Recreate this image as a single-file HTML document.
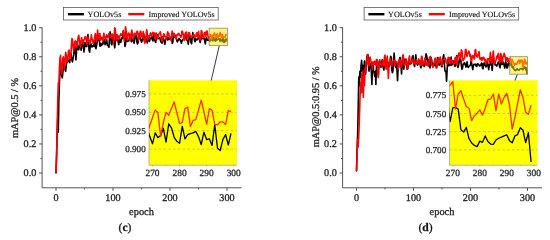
<!DOCTYPE html>
<html><head><meta charset="utf-8"><title>figure</title>
<style>html,body{margin:0;padding:0;background:#fff}svg{display:block}text{text-rendering:geometricPrecision;stroke:#222;stroke-width:0.3px}.lg text{stroke-width:0.15px}</style></head>
<body>
<svg width="550" height="240" viewBox="0 0 550 240">
<rect width="550" height="240" fill="#fff"/>
<g fill="none" stroke-linejoin="round" stroke-linecap="round" stroke-width="1.6">
<path d="M56.00,173.00 L56.57,155.56 L57.14,133.77 L57.71,117.79 L58.28,132.32 L58.85,100.35 L59.42,82.91 L59.99,71.29 L60.56,68.38 L61.13,72.74 L61.70,75.65 L62.27,77.83 L62.84,72.74 L63.41,65.48 L63.98,62.57 L64.55,66.93 L65.12,69.84 L65.69,71.29 L66.26,65.48 L66.83,59.67 L67.40,56.76 L67.97,59.67 L68.54,61.12 L69.11,61.85 L69.68,62.57 L70.25,58.21 L70.82,53.85 L71.39,56.76 L71.96,60.39 L72.53,61.85 L73.10,58.21 L73.67,54.70 L74.24,48.73 L74.81,44.87 L75.38,51.10 L75.95,59.92 L76.52,51.70 L77.09,41.72 L77.66,45.30 L78.23,49.65 L78.80,49.67 L79.37,46.09 L79.94,44.49 L80.51,41.47 L81.08,50.32 L81.65,48.38 L82.22,44.29 L82.79,44.63 L83.36,42.62 L83.93,52.05 L84.50,48.00 L85.07,42.57 L85.64,45.96 L86.21,46.21 L86.78,46.58 L87.35,37.98 L87.92,34.60 L88.49,41.29 L89.06,50.57 L89.63,52.08 L90.20,47.00 L90.77,43.57 L91.34,45.11 L91.91,46.96 L92.48,46.25 L93.05,45.33 L93.62,45.54 L94.19,46.68 L94.76,37.66 L95.33,42.27 L95.90,48.78 L96.47,46.23 L97.04,42.94 L97.61,40.27 L98.18,39.37 L98.75,39.02 L99.32,40.59 L99.89,46.22 L100.46,43.34 L101.03,45.73 L101.60,44.52 L102.17,43.34 L102.74,44.63 L103.31,41.85 L103.88,41.29 L104.45,39.42 L105.02,44.73 L105.59,43.22 L106.16,40.13 L106.73,39.89 L107.30,45.18 L107.87,45.67 L108.44,46.09 L109.01,47.29 L109.58,34.82 L110.15,31.91 L110.72,35.03 L111.29,43.83 L111.86,44.81 L112.43,40.44 L113.00,37.34 L113.57,39.20 L114.14,42.56 L114.71,47.82 L115.28,42.92 L115.85,37.29 L116.42,34.87 L116.99,39.66 L117.56,39.29 L118.13,41.33 L118.70,44.58 L119.27,40.42 L119.84,39.15 L120.41,42.42 L120.98,42.00 L121.55,38.45 L122.12,37.58 L122.69,38.43 L123.26,31.32 L123.83,33.74 L124.40,37.60 L124.97,46.41 L125.54,44.47 L126.11,37.38 L126.68,36.53 L127.25,41.05 L127.82,41.50 L128.39,40.76 L128.96,40.61 L129.53,37.09 L130.10,34.53 L130.67,37.12 L131.24,41.77 L131.81,41.06 L132.38,37.29 L132.95,35.73 L133.52,41.32 L134.09,43.22 L134.66,39.73 L135.23,35.89 L135.80,34.69 L136.37,36.49 L136.94,42.28 L137.51,43.91 L138.08,42.73 L138.65,34.60 L139.22,33.61 L139.79,36.72 L140.36,38.15 L140.93,40.14 L141.50,42.26 L142.07,40.94 L142.64,38.31 L143.21,33.95 L143.78,34.04 L144.35,40.65 L144.92,41.04 L145.49,37.43 L146.06,38.72 L146.63,39.56 L147.20,42.99 L147.77,40.10 L148.34,37.73 L148.91,40.02 L149.48,41.42 L150.05,39.06 L150.62,38.45 L151.19,37.62 L151.76,36.93 L152.33,39.85 L152.90,40.96 L153.47,34.93 L154.04,34.74 L154.61,40.00 L155.18,41.51 L155.75,42.38 L156.32,36.98 L156.89,34.71 L157.46,34.85 L158.03,36.60 L158.60,38.66 L159.17,37.76 L159.74,37.65 L160.31,39.84 L160.88,42.00 L161.45,40.94 L162.02,43.27 L162.59,36.46 L163.16,38.14 L163.73,39.67 L164.30,42.21 L164.87,44.38 L165.44,40.33 L166.01,37.05 L166.58,36.99 L167.15,37.34 L167.72,39.98 L168.29,39.39 L168.86,37.27 L169.43,38.01 L170.00,39.55 L170.57,38.43 L171.14,37.84 L171.71,37.90 L172.28,43.40 L172.85,41.86 L173.42,37.17 L173.99,36.15 L174.56,37.19 L175.13,35.25 L175.70,37.13 L176.27,38.22 L176.84,40.91 L177.41,41.97 L177.98,40.37 L178.55,39.87 L179.12,38.41 L179.69,39.65 L180.26,39.71 L180.83,41.60 L181.40,43.17 L181.97,41.12 L182.54,39.75 L183.11,39.21 L183.68,39.57 L184.25,39.56 L184.82,36.55 L185.39,34.02 L185.96,35.44 L186.53,39.93 L187.10,38.19 L187.67,40.68 L188.24,44.19 L188.81,40.38 L189.38,36.56 L189.95,36.61 L190.52,38.44 L191.09,42.91 L191.66,43.70 L192.23,36.87 L192.80,32.59 L193.37,37.27 L193.94,37.27 L194.51,40.66 L195.08,41.78 L195.65,38.83 L196.22,39.35 L196.79,39.92 L197.36,39.34 L197.93,39.11 L198.50,36.75 L199.07,35.97 L199.64,40.20 L200.21,42.44 L200.78,39.73 L201.35,37.28 L201.92,38.72 L202.49,38.56 L203.06,36.87 L203.63,38.80 L204.20,38.12 L204.77,41.43 L205.34,43.86 L205.91,39.28 L206.48,37.74 L207.05,39.67 L207.62,40.28 L208.19,40.40 L208.76,38.12 L209.33,39.76 L209.90,41.18 L210.47,39.03 L211.04,39.96 L211.61,39.54 L212.18,38.12 L212.75,40.86 L213.32,37.23 L213.89,38.02 L214.46,39.91 L215.03,40.69 L215.60,41.07 L216.17,37.73 L216.74,40.20 L217.31,39.37 L217.88,39.18 L218.45,39.03 L219.02,38.74 L219.59,39.76 L220.16,41.36 L220.73,38.89 L221.30,40.34 L221.87,40.20 L222.44,41.50 L223.01,37.44 L223.58,42.01 L224.15,42.52 L224.72,40.34 L225.29,39.37 L225.86,41.42 L226.43,39.11" stroke="#000"/>
<path d="M56.00,172.27 L56.57,158.47 L57.14,129.41 L57.71,103.26 L58.28,82.91 L58.85,85.82 L59.42,68.38 L59.99,58.21 L60.56,55.31 L61.13,71.29 L61.70,74.20 L62.27,65.48 L62.84,58.21 L63.41,56.76 L63.98,64.02 L64.55,68.38 L65.12,59.67 L65.69,52.40 L66.26,55.31 L66.83,61.12 L67.40,62.57 L67.97,56.76 L68.54,50.95 L69.11,50.22 L69.68,56.76 L70.25,58.26 L70.82,58.60 L71.39,45.15 L71.96,38.66 L72.53,39.68 L73.10,47.29 L73.67,50.97 L74.24,47.24 L74.81,41.73 L75.38,40.82 L75.95,43.23 L76.52,47.69 L77.09,45.02 L77.66,41.45 L78.23,36.86 L78.80,35.43 L79.37,40.23 L79.94,45.54 L80.51,46.94 L81.08,41.05 L81.65,37.68 L82.22,40.12 L82.79,42.12 L83.36,44.03 L83.93,39.75 L84.50,39.60 L85.07,36.46 L85.64,37.10 L86.21,38.54 L86.78,44.19 L87.35,42.88 L87.92,37.08 L88.49,39.25 L89.06,41.61 L89.63,40.86 L90.20,43.14 L90.77,39.85 L91.34,34.89 L91.91,38.51 L92.48,39.87 L93.05,43.39 L93.62,41.02 L94.19,41.98 L94.76,36.01 L95.33,33.68 L95.90,36.67 L96.47,41.78 L97.04,37.50 L97.61,30.07 L98.18,38.24 L98.75,38.95 L99.32,33.74 L99.89,33.56 L100.46,40.42 L101.03,39.20 L101.60,37.36 L102.17,37.95 L102.74,40.93 L103.31,37.72 L103.88,33.39 L104.45,36.12 L105.02,37.22 L105.59,40.61 L106.16,37.05 L106.73,34.83 L107.30,35.98 L107.87,37.66 L108.44,35.56 L109.01,33.57 L109.58,34.01 L110.15,36.33 L110.72,37.61 L111.29,35.72 L111.86,34.74 L112.43,34.02 L113.00,36.51 L113.57,43.60 L114.14,38.07 L114.71,27.84 L115.28,28.76 L115.85,36.32 L116.42,40.53 L116.99,38.82 L117.56,35.03 L118.13,36.29 L118.70,37.70 L119.27,39.00 L119.84,36.04 L120.41,34.76 L120.98,33.75 L121.55,35.42 L122.12,34.30 L122.69,34.48 L123.26,30.60 L123.83,37.63 L124.40,41.25 L124.97,35.97 L125.54,26.90 L126.11,30.64 L126.68,37.38 L127.25,40.09 L127.82,34.42 L128.39,33.10 L128.96,33.23 L129.53,36.35 L130.10,40.38 L130.67,37.53 L131.24,33.06 L131.81,30.10 L132.38,33.93 L132.95,39.13 L133.52,37.55 L134.09,34.38 L134.66,33.20 L135.23,35.04 L135.80,34.08 L136.37,34.23 L136.94,31.42 L137.51,31.38 L138.08,33.93 L138.65,40.64 L139.22,38.42 L139.79,33.68 L140.36,31.11 L140.93,31.65 L141.50,36.64 L142.07,36.72 L142.64,37.04 L143.21,31.64 L143.78,35.35 L144.35,41.62 L144.92,43.21 L145.49,39.00 L146.06,35.98 L146.63,29.73 L147.20,32.53 L147.77,40.01 L148.34,37.72 L148.91,35.81 L149.48,37.33 L150.05,34.73 L150.62,32.82 L151.19,35.39 L151.76,34.05 L152.33,34.56 L152.90,32.40 L153.47,33.18 L154.04,32.60 L154.61,34.94 L155.18,39.60 L155.75,33.25 L156.32,33.16 L156.89,35.91 L157.46,38.77 L158.03,37.92 L158.60,34.83 L159.17,33.47 L159.74,33.37 L160.31,31.64 L160.88,34.73 L161.45,40.02 L162.02,41.47 L162.59,38.28 L163.16,37.65 L163.73,33.69 L164.30,34.41 L164.87,36.69 L165.44,37.04 L166.01,38.96 L166.58,38.81 L167.15,34.36 L167.72,31.78 L168.29,34.95 L168.86,33.56 L169.43,37.57 L170.00,38.79 L170.57,37.06 L171.14,40.76 L171.71,33.95 L172.28,30.98 L172.85,35.96 L173.42,34.14 L173.99,33.33 L174.56,34.18 L175.13,37.37 L175.70,37.36 L176.27,39.03 L176.84,35.14 L177.41,34.27 L177.98,34.83 L178.55,33.40 L179.12,34.15 L179.69,35.46 L180.26,35.83 L180.83,37.46 L181.40,34.95 L181.97,30.96 L182.54,31.56 L183.11,33.90 L183.68,38.76 L184.25,40.45 L184.82,39.98 L185.39,33.08 L185.96,32.19 L186.53,32.02 L187.10,37.02 L187.67,39.51 L188.24,37.12 L188.81,32.49 L189.38,32.76 L189.95,35.22 L190.52,37.01 L191.09,36.40 L191.66,37.75 L192.23,36.40 L192.80,35.37 L193.37,35.21 L193.94,34.53 L194.51,36.68 L195.08,37.13 L195.65,36.66 L196.22,34.61 L196.79,32.81 L197.36,36.52 L197.93,36.59 L198.50,31.43 L199.07,35.63 L199.64,39.80 L200.21,40.14 L200.78,36.74 L201.35,30.43 L201.92,31.79 L202.49,37.69 L203.06,37.82 L203.63,37.16 L204.20,33.04 L204.77,32.57 L205.34,32.32 L205.91,36.73 L206.48,31.86 L207.05,30.98 L207.62,33.54 L208.19,37.10 L208.76,39.31 L209.33,37.52 L209.90,36.04 L210.47,34.49 L211.04,35.05 L211.61,39.70 L212.18,37.00 L212.75,34.97 L213.32,35.55 L213.89,34.24 L214.46,32.90 L215.03,35.05 L215.60,37.19 L216.17,36.97 L216.74,34.24 L217.31,33.95 L217.88,37.78 L218.45,36.56 L219.02,36.42 L219.59,34.53 L220.16,32.57 L220.73,34.88 L221.30,37.36 L221.87,34.24 L222.44,34.53 L223.01,37.36 L223.58,37.44 L224.15,36.85 L224.72,36.85 L225.29,37.36 L225.86,34.62 L226.43,34.82" stroke="#ff0000"/>
</g>
<g stroke="#404040" stroke-width="0.9" fill="none">
<path d="M42.10,27.2 V187.8 H241.50"/>
<path d="M42.10,173.00 h-3.00"/>
<path d="M42.10,158.47 h-1.60"/>
<path d="M42.10,143.94 h-3.00"/>
<path d="M42.10,129.41 h-1.60"/>
<path d="M42.10,114.88 h-3.00"/>
<path d="M42.10,100.35 h-1.60"/>
<path d="M42.10,85.82 h-3.00"/>
<path d="M42.10,71.29 h-1.60"/>
<path d="M42.10,56.76 h-3.00"/>
<path d="M42.10,42.23 h-1.60"/>
<path d="M42.10,27.70 h-3.00"/>
<path d="M56.00,187.8 v3.00"/>
<path d="M84.50,187.8 v1.60"/>
<path d="M113.00,187.8 v3.00"/>
<path d="M141.50,187.8 v1.60"/>
<path d="M170.00,187.8 v3.00"/>
<path d="M198.50,187.8 v1.60"/>
<path d="M227.00,187.8 v3.00"/>
</g>
<g font-family="Liberation Serif, Times New Roman, serif" font-size="10.2" fill="#222">
<text x="36.30" y="176.20" text-anchor="end">0.0</text>
<text x="36.30" y="147.14" text-anchor="end">0.2</text>
<text x="36.30" y="118.08" text-anchor="end">0.4</text>
<text x="36.30" y="89.02" text-anchor="end">0.6</text>
<text x="36.30" y="59.96" text-anchor="end">0.8</text>
<text x="36.30" y="30.90" text-anchor="end">1.0</text>
<text x="56.00" y="201.3" text-anchor="middle">0</text>
<text x="113.00" y="201.3" text-anchor="middle">100</text>
<text x="170.00" y="201.3" text-anchor="middle">200</text>
<text x="227.00" y="201.3" text-anchor="middle">300</text>
</g>
<text font-family="Liberation Serif, Times New Roman, serif" font-size="10.4" fill="#222" x="141.50" y="214.5" text-anchor="middle">epoch</text>
<text font-family="Liberation Serif, Times New Roman, serif" font-size="10.3" fill="#222" text-anchor="middle" transform="translate(18.00,108.00) rotate(-90)">mAP@0.5 / %</text>
<text font-family="Liberation Serif, Times New Roman, serif" font-size="11.6" fill="#111" x="125.00" y="230.5" text-anchor="middle">(<tspan font-weight="bold">c</tspan>)</text>
<rect x="63.60" y="7.6" width="154.6" height="12.4" fill="#fff" stroke="#505050" stroke-width="0.75"/>
<path d="M67.90,14.2 h16" stroke="#000" stroke-width="2.4"/>
<path d="M128.30,14.2 h16" stroke="#ff0000" stroke-width="2.4"/>
<g class="lg">
<text font-family="Liberation Serif, Times New Roman, serif" font-size="8.1" fill="#111" stroke-width="0.15" x="87.60" y="16.6">YOLOv5s</text>
<text font-family="Liberation Serif, Times New Roman, serif" font-size="8.0" fill="#111" stroke-width="0.15" x="148.50" y="16.6">Improved YOLOv5s</text>
</g>
<rect x="149.00" y="80.30" width="88.00" height="84.90" fill="#ffff00"/>
<path d="M149.00,80.30 V165.20 H237.00" stroke="#8a8a9a" stroke-width="0.6" fill="none"/>
<path d="M149.00,93.90 H237.00" stroke="#b0b060" stroke-width="0.7" stroke-dasharray="2.6,2.2" fill="none"/>
<text font-family="Liberation Serif, Times New Roman, serif" font-size="9.1" fill="#333" x="145.70" y="97.00" text-anchor="end">0.975</text>
<path d="M149.00,112.30 H237.00" stroke="#b0b060" stroke-width="0.7" stroke-dasharray="2.6,2.2" fill="none"/>
<text font-family="Liberation Serif, Times New Roman, serif" font-size="9.1" fill="#333" x="145.70" y="115.40" text-anchor="end">0.950</text>
<path d="M149.00,130.70 H237.00" stroke="#b0b060" stroke-width="0.7" stroke-dasharray="2.6,2.2" fill="none"/>
<text font-family="Liberation Serif, Times New Roman, serif" font-size="9.1" fill="#333" x="145.70" y="133.80" text-anchor="end">0.925</text>
<path d="M149.00,149.10 H237.00" stroke="#b0b060" stroke-width="0.7" stroke-dasharray="2.6,2.2" fill="none"/>
<text font-family="Liberation Serif, Times New Roman, serif" font-size="9.1" fill="#333" x="145.70" y="152.20" text-anchor="end">0.900</text>
<text font-family="Liberation Serif, Times New Roman, serif" font-size="9.4" fill="#333" x="152.50" y="175.9" text-anchor="middle">270</text>
<text font-family="Liberation Serif, Times New Roman, serif" font-size="9.4" fill="#333" x="179.57" y="175.9" text-anchor="middle">280</text>
<text font-family="Liberation Serif, Times New Roman, serif" font-size="9.4" fill="#333" x="206.64" y="175.9" text-anchor="middle">290</text>
<text font-family="Liberation Serif, Times New Roman, serif" font-size="9.4" fill="#333" x="233.71" y="175.9" text-anchor="middle">300</text>
<path d="M152.50,165.20 v1.4" stroke="#8a8a9a" stroke-width="0.6"/>
<path d="M166.03,165.20 v0.9" stroke="#8a8a9a" stroke-width="0.6"/>
<path d="M179.57,165.20 v1.4" stroke="#8a8a9a" stroke-width="0.6"/>
<path d="M193.10,165.20 v0.9" stroke="#8a8a9a" stroke-width="0.6"/>
<path d="M206.64,165.20 v1.4" stroke="#8a8a9a" stroke-width="0.6"/>
<path d="M220.18,165.20 v0.9" stroke="#8a8a9a" stroke-width="0.6"/>
<path d="M233.71,165.20 v1.4" stroke="#8a8a9a" stroke-width="0.6"/>
<clipPath id="clipc"><rect x="149.00" y="80.30" width="88.00" height="84.90"/></clipPath>
<g clip-path="url(#clipc)" fill="none" stroke-linejoin="round" stroke-width="1.3">
<path d="M147.09,128.27 L149.79,136.59 L152.50,143.80 L155.21,132.91 L157.91,137.62 L160.62,135.48 L163.33,128.27 L166.03,142.18 L168.74,123.78 L171.45,127.76 L174.16,137.32 L176.86,141.30 L179.57,143.21 L182.28,126.28 L184.98,138.80 L187.69,134.60 L190.40,133.64 L193.10,132.91 L195.81,131.44 L198.52,136.59 L201.23,144.68 L203.93,132.17 L206.64,139.53 L209.35,138.80 L212.05,145.42 L214.76,124.81 L217.47,148.00 L220.18,150.57 L222.88,139.53 L225.59,134.60 L228.30,144.98 L231.00,133.28" stroke="#000"/>
<path d="M147.09,134.31 L149.79,125.25 L152.50,117.75 L155.21,109.87 L157.91,112.74 L160.62,136.29 L163.33,122.60 L166.03,112.30 L168.74,115.24 L171.45,108.62 L174.16,101.85 L176.86,112.74 L179.57,123.56 L182.28,122.46 L184.98,108.62 L187.69,107.15 L190.40,126.58 L193.10,120.40 L195.81,119.66 L198.52,110.09 L201.23,100.16 L203.93,111.86 L206.64,124.44 L209.35,108.62 L212.05,110.09 L214.76,124.44 L217.47,124.81 L220.18,121.87 L222.88,121.87 L225.59,124.44 L228.30,110.53 L231.00,111.56" stroke="#ff2a00"/>
</g>
<rect x="209.20" y="28.20" width="18.30" height="17.40" fill="#ffe800" fill-opacity="0.5" stroke="#8c8c70" stroke-width="0.8"/>
<path d="M219.20,46.00 L211.20,80.50" stroke="#222" stroke-width="0.9"/>
<g fill="none" stroke-linejoin="round" stroke-linecap="round" stroke-width="1.6">
<path d="M356.50,170.82 L357.07,151.20 L357.64,133.77 L358.21,107.61 L358.78,77.10 L359.35,85.82 L359.92,71.29 L360.49,77.10 L361.06,65.48 L361.63,60.25 L362.20,71.29 L362.77,65.48 L363.34,77.10 L363.91,68.38 L364.48,61.12 L365.05,71.29 L365.62,74.20 L366.19,65.48 L366.76,58.21 L367.33,55.31 L367.90,54.58 L368.47,65.48 L369.04,71.29 L369.61,65.91 L370.18,63.47 L370.75,63.59 L371.32,71.29 L371.89,84.37 L372.46,68.38 L373.03,62.36 L373.60,71.15 L374.17,72.52 L374.74,76.38 L375.31,71.29 L375.88,84.37 L376.45,66.93 L377.02,59.83 L377.59,73.87 L378.16,69.62 L378.73,63.46 L379.30,61.07 L379.87,62.42 L380.44,64.47 L381.01,67.26 L381.58,62.62 L382.15,59.86 L382.72,64.63 L383.29,67.83 L383.86,70.05 L384.43,64.98 L385.00,58.86 L385.57,58.20 L386.14,61.30 L386.71,66.30 L387.28,61.40 L387.85,62.08 L388.42,64.32 L388.99,66.62 L389.56,65.26 L390.13,64.25 L390.70,56.33 L391.27,57.62 L391.84,70.16 L392.41,72.81 L392.98,70.83 L393.55,60.18 L394.12,52.98 L394.69,60.63 L395.26,65.74 L395.83,67.40 L396.40,63.47 L396.97,69.84 L397.54,80.73 L398.11,68.38 L398.68,67.06 L399.25,60.52 L399.82,57.44 L400.39,58.01 L400.96,65.57 L401.53,74.02 L402.10,65.38 L402.67,59.89 L403.24,63.80 L403.81,69.12 L404.38,62.96 L404.95,59.12 L405.52,59.76 L406.09,60.57 L406.66,65.42 L407.23,69.33 L407.80,68.16 L408.37,65.98 L408.94,62.75 L409.51,63.75 L410.08,63.31 L410.65,64.02 L411.22,63.45 L411.79,60.48 L412.36,56.67 L412.93,55.48 L413.50,61.14 L414.07,65.04 L414.64,66.41 L415.21,60.61 L415.78,54.69 L416.35,60.52 L416.92,63.47 L417.49,65.24 L418.06,64.23 L418.63,61.57 L419.20,62.19 L419.77,60.30 L420.34,65.69 L420.91,67.78 L421.48,64.41 L422.05,63.79 L422.62,61.27 L423.19,65.40 L423.76,64.90 L424.33,66.52 L424.90,64.14 L425.47,59.90 L426.04,53.82 L426.61,55.60 L427.18,58.60 L427.75,63.82 L428.32,59.66 L428.89,60.73 L429.46,63.77 L430.03,67.91 L430.60,64.61 L431.17,57.92 L431.74,60.29 L432.31,64.78 L432.88,66.50 L433.45,64.69 L434.02,63.31 L434.59,65.55 L435.16,60.23 L435.73,64.84 L436.30,67.83 L436.87,63.64 L437.44,57.53 L438.01,59.40 L438.58,64.20 L439.15,65.23 L439.72,64.02 L440.29,59.61 L440.86,61.22 L441.43,66.05 L442.00,66.77 L442.57,62.97 L443.14,57.16 L443.71,54.68 L444.28,61.77 L444.85,70.43 L445.42,71.62 L445.99,71.29 L446.56,81.17 L447.13,69.84 L447.70,59.44 L448.27,64.08 L448.84,65.79 L449.41,65.27 L449.98,65.36 L450.55,60.67 L451.12,57.00 L451.69,65.13 L452.26,64.70 L452.83,63.08 L453.40,61.21 L453.97,60.92 L454.54,65.75 L455.11,66.30 L455.68,65.72 L456.25,59.11 L456.82,55.55 L457.39,60.24 L457.96,67.55 L458.53,65.52 L459.10,62.67 L459.67,58.80 L460.24,57.76 L460.81,59.97 L461.38,65.74 L461.95,69.32 L462.52,67.88 L463.09,64.13 L463.66,64.23 L464.23,62.83 L464.80,63.01 L465.37,65.12 L465.94,67.08 L466.51,65.26 L467.08,61.75 L467.65,66.41 L468.22,67.49 L468.79,66.47 L469.36,66.03 L469.93,65.61 L470.50,64.76 L471.07,61.42 L471.64,63.01 L472.21,66.74 L472.78,69.57 L473.35,65.72 L473.92,64.42 L474.49,64.65 L475.06,64.07 L475.63,64.75 L476.20,66.27 L476.77,66.46 L477.34,63.84 L477.91,63.72 L478.48,64.66 L479.05,65.00 L479.62,66.02 L480.19,65.30 L480.76,65.35 L481.33,63.30 L481.90,63.11 L482.47,68.08 L483.04,68.60 L483.61,63.81 L484.18,62.87 L484.75,65.34 L485.32,64.93 L485.89,66.93 L486.46,66.40 L487.03,64.02 L487.60,62.37 L488.17,66.01 L488.74,69.58 L489.31,64.93 L489.88,64.04 L490.45,64.88 L491.02,61.47 L491.59,63.98 L492.16,70.52 L492.73,64.40 L493.30,60.04 L493.87,61.91 L494.44,61.28 L495.01,64.86 L495.58,64.77 L496.15,65.22 L496.72,66.07 L497.29,64.74 L497.86,63.00 L498.43,61.96 L499.00,62.45 L499.57,66.33 L500.14,67.73 L500.71,62.87 L501.28,61.40 L501.85,64.12 L502.42,64.44 L502.99,63.02 L503.56,62.15 L504.13,65.65 L504.70,68.03 L505.27,65.55 L505.84,61.89 L506.41,65.21 L506.98,68.04 L507.55,67.54 L508.12,63.46 L508.69,64.89 L509.26,61.40 L509.83,65.62 L510.40,62.89 L510.97,62.79 L511.54,63.15 L512.11,67.27 L512.68,67.73 L513.25,66.79 L513.82,69.04 L514.39,69.91 L514.96,70.40 L515.53,70.64 L516.10,69.55 L516.67,69.78 L517.24,68.50 L517.81,69.62 L518.38,70.13 L518.95,70.20 L519.52,69.31 L520.09,68.97 L520.66,68.73 L521.23,68.50 L521.80,68.31 L522.37,69.44 L522.94,69.88 L523.51,68.50 L524.08,68.24 L524.65,66.86 L525.22,67.37 L525.79,69.84 L526.36,67.86 L526.93,73.70" stroke="#000"/>
<path d="M356.50,170.97 L357.07,155.56 L357.64,139.58 L358.21,146.85 L358.78,135.22 L359.35,120.69 L359.92,100.35 L360.49,82.91 L361.06,93.08 L361.63,74.20 L362.20,91.63 L362.77,71.29 L363.34,97.44 L363.91,77.10 L364.48,85.82 L365.05,68.38 L365.62,71.29 L366.19,62.57 L366.76,63.75 L367.33,54.61 L367.90,62.47 L368.47,64.58 L369.04,65.73 L369.61,57.64 L370.18,57.07 L370.75,60.43 L371.32,62.94 L371.89,64.13 L372.46,69.70 L373.03,61.91 L373.60,64.34 L374.17,64.13 L374.74,61.23 L375.31,64.86 L375.88,65.09 L376.45,59.49 L377.02,60.18 L377.59,66.75 L378.16,77.56 L378.73,73.67 L379.30,63.88 L379.87,59.69 L380.44,64.01 L381.01,64.40 L381.58,65.46 L382.15,64.29 L382.72,60.31 L383.29,63.60 L383.86,65.98 L384.43,57.47 L385.00,55.12 L385.57,65.45 L386.14,69.18 L386.71,63.64 L387.28,55.97 L387.85,68.38 L388.42,78.55 L388.99,65.48 L389.56,63.64 L390.13,58.64 L390.70,61.38 L391.27,64.83 L391.84,66.11 L392.41,61.46 L392.98,62.16 L393.55,61.59 L394.12,59.72 L394.69,59.97 L395.26,65.10 L395.83,61.62 L396.40,62.59 L396.97,61.85 L397.54,64.30 L398.11,69.11 L398.68,64.93 L399.25,59.45 L399.82,59.42 L400.39,61.41 L400.96,65.31 L401.53,66.84 L402.10,63.96 L402.67,55.37 L403.24,54.76 L403.81,62.93 L404.38,65.28 L404.95,65.07 L405.52,63.54 L406.09,59.01 L406.66,60.88 L407.23,67.74 L407.80,68.79 L408.37,62.84 L408.94,58.42 L409.51,55.93 L410.08,62.19 L410.65,63.50 L411.22,61.63 L411.79,61.27 L412.36,59.41 L412.93,59.36 L413.50,64.00 L414.07,61.71 L414.64,63.82 L415.21,62.99 L415.78,61.44 L416.35,59.83 L416.92,62.74 L417.49,63.62 L418.06,62.82 L418.63,58.83 L419.20,61.52 L419.77,63.14 L420.34,63.52 L420.91,65.55 L421.48,56.25 L422.05,56.47 L422.62,65.50 L423.19,63.48 L423.76,63.58 L424.33,61.05 L424.90,58.16 L425.47,61.66 L426.04,64.90 L426.61,65.23 L427.18,62.57 L427.75,64.54 L428.32,66.26 L428.89,63.44 L429.46,57.72 L430.03,56.78 L430.60,56.63 L431.17,59.68 L431.74,64.72 L432.31,65.15 L432.88,67.40 L433.45,65.86 L434.02,63.79 L434.59,60.12 L435.16,58.06 L435.73,61.86 L436.30,65.45 L436.87,67.94 L437.44,63.93 L438.01,59.11 L438.58,57.86 L439.15,62.84 L439.72,59.77 L440.29,57.03 L440.86,60.25 L441.43,64.86 L442.00,65.41 L442.57,62.00 L443.14,59.99 L443.71,59.41 L444.28,59.48 L444.85,58.38 L445.42,58.20 L445.99,61.79 L446.56,62.91 L447.13,63.48 L447.70,63.71 L448.27,57.41 L448.84,59.16 L449.41,57.81 L449.98,61.69 L450.55,63.40 L451.12,60.25 L451.69,59.92 L452.26,60.59 L452.83,62.73 L453.40,64.26 L453.97,63.25 L454.54,62.94 L455.11,57.79 L455.68,58.38 L456.25,56.80 L456.82,65.46 L457.39,64.52 L457.96,57.08 L458.53,54.35 L459.10,52.81 L459.67,54.50 L460.24,58.20 L460.81,57.84 L461.38,49.78 L461.95,51.12 L462.52,56.34 L463.09,60.60 L463.66,58.92 L464.23,58.88 L464.80,57.16 L465.37,49.72 L465.94,49.37 L466.51,54.34 L467.08,56.50 L467.65,53.17 L468.22,52.95 L468.79,51.13 L469.36,52.50 L469.93,56.51 L470.50,54.51 L471.07,60.74 L471.64,61.44 L472.21,56.37 L472.78,55.60 L473.35,56.15 L473.92,58.06 L474.49,58.95 L475.06,50.40 L475.63,49.52 L476.20,55.38 L476.77,56.25 L477.34,57.17 L477.91,54.57 L478.48,53.68 L479.05,51.54 L479.62,58.56 L480.19,59.18 L480.76,57.72 L481.33,60.09 L481.90,57.70 L482.47,60.05 L483.04,57.54 L483.61,57.24 L484.18,58.38 L484.75,60.72 L485.32,59.58 L485.89,64.12 L486.46,62.99 L487.03,61.40 L487.60,58.89 L488.17,59.00 L488.74,58.91 L489.31,62.23 L489.88,58.02 L490.45,52.40 L491.02,57.24 L491.59,62.96 L492.16,62.50 L492.73,56.48 L493.30,50.94 L493.87,57.66 L494.44,63.02 L495.01,63.67 L495.58,60.86 L496.15,59.98 L496.72,56.29 L497.29,58.07 L497.86,54.98 L498.43,53.45 L499.00,58.81 L499.57,63.01 L500.14,61.63 L500.71,53.66 L501.28,54.78 L501.85,61.47 L502.42,61.61 L502.99,56.93 L503.56,56.37 L504.13,53.29 L504.70,54.93 L505.27,57.19 L505.84,60.75 L506.41,59.78 L506.98,57.45 L507.55,61.52 L508.12,59.34 L508.69,60.60 L509.26,58.45 L509.83,58.36 L510.40,57.69 L510.97,63.12 L511.54,60.13 L512.11,59.46 L512.68,61.12 L513.25,62.63 L513.82,62.96 L514.39,65.46 L514.96,64.46 L515.53,63.95 L516.10,63.30 L516.67,64.36 L517.24,62.96 L517.81,61.29 L518.38,61.12 L518.95,60.13 L519.52,63.44 L520.09,60.13 L520.66,62.14 L521.23,60.83 L521.80,60.03 L522.37,62.28 L522.94,67.13 L523.51,64.82 L524.08,61.99 L524.65,59.29 L525.22,60.83 L525.79,63.79 L526.36,64.20 L526.93,62.35" stroke="#ff0000"/>
</g>
<g stroke="#404040" stroke-width="0.9" fill="none">
<path d="M342.60,27.2 V187.8 H542.00"/>
<path d="M342.60,173.00 h-3.00"/>
<path d="M342.60,158.47 h-1.60"/>
<path d="M342.60,143.94 h-3.00"/>
<path d="M342.60,129.41 h-1.60"/>
<path d="M342.60,114.88 h-3.00"/>
<path d="M342.60,100.35 h-1.60"/>
<path d="M342.60,85.82 h-3.00"/>
<path d="M342.60,71.29 h-1.60"/>
<path d="M342.60,56.76 h-3.00"/>
<path d="M342.60,42.23 h-1.60"/>
<path d="M342.60,27.70 h-3.00"/>
<path d="M356.50,187.8 v3.00"/>
<path d="M385.00,187.8 v1.60"/>
<path d="M413.50,187.8 v3.00"/>
<path d="M442.00,187.8 v1.60"/>
<path d="M470.50,187.8 v3.00"/>
<path d="M499.00,187.8 v1.60"/>
<path d="M527.50,187.8 v3.00"/>
</g>
<g font-family="Liberation Serif, Times New Roman, serif" font-size="10.2" fill="#222">
<text x="336.80" y="176.20" text-anchor="end">0.0</text>
<text x="336.80" y="147.14" text-anchor="end">0.2</text>
<text x="336.80" y="118.08" text-anchor="end">0.4</text>
<text x="336.80" y="89.02" text-anchor="end">0.6</text>
<text x="336.80" y="59.96" text-anchor="end">0.8</text>
<text x="336.80" y="30.90" text-anchor="end">1.0</text>
<text x="356.50" y="201.3" text-anchor="middle">0</text>
<text x="413.50" y="201.3" text-anchor="middle">100</text>
<text x="470.50" y="201.3" text-anchor="middle">200</text>
<text x="527.50" y="201.3" text-anchor="middle">300</text>
</g>
<text font-family="Liberation Serif, Times New Roman, serif" font-size="10.4" fill="#222" x="442.00" y="214.5" text-anchor="middle">epoch</text>
<text font-family="Liberation Serif, Times New Roman, serif" font-size="10.3" fill="#222" text-anchor="middle" transform="translate(318.50,106.80) rotate(-90)">mAP@0.5:0.95 / %</text>
<text font-family="Liberation Serif, Times New Roman, serif" font-size="11.6" fill="#111" x="425.50" y="230.5" text-anchor="middle">(<tspan font-weight="bold">d</tspan>)</text>
<rect x="364.10" y="7.6" width="154.6" height="12.4" fill="#fff" stroke="#505050" stroke-width="0.75"/>
<path d="M368.40,14.2 h16" stroke="#000" stroke-width="2.4"/>
<path d="M428.80,14.2 h16" stroke="#ff0000" stroke-width="2.4"/>
<g class="lg">
<text font-family="Liberation Serif, Times New Roman, serif" font-size="8.1" fill="#111" stroke-width="0.15" x="388.10" y="16.6">YOLOv5s</text>
<text font-family="Liberation Serif, Times New Roman, serif" font-size="8.0" fill="#111" stroke-width="0.15" x="449.00" y="16.6">Improved YOLOv5s</text>
</g>
<rect x="449.50" y="80.30" width="88.00" height="84.90" fill="#ffff00"/>
<path d="M449.50,80.30 V165.20 H537.50" stroke="#8a8a9a" stroke-width="0.6" fill="none"/>
<path d="M449.50,95.30 H537.50" stroke="#b0b060" stroke-width="0.7" stroke-dasharray="2.6,2.2" fill="none"/>
<text font-family="Liberation Serif, Times New Roman, serif" font-size="9.1" fill="#333" x="446.20" y="98.40" text-anchor="end">0.775</text>
<path d="M449.50,113.50 H537.50" stroke="#b0b060" stroke-width="0.7" stroke-dasharray="2.6,2.2" fill="none"/>
<text font-family="Liberation Serif, Times New Roman, serif" font-size="9.1" fill="#333" x="446.20" y="116.60" text-anchor="end">0.750</text>
<path d="M449.50,131.70 H537.50" stroke="#b0b060" stroke-width="0.7" stroke-dasharray="2.6,2.2" fill="none"/>
<text font-family="Liberation Serif, Times New Roman, serif" font-size="9.1" fill="#333" x="446.20" y="134.80" text-anchor="end">0.725</text>
<path d="M449.50,149.90 H537.50" stroke="#b0b060" stroke-width="0.7" stroke-dasharray="2.6,2.2" fill="none"/>
<text font-family="Liberation Serif, Times New Roman, serif" font-size="9.1" fill="#333" x="446.20" y="153.00" text-anchor="end">0.700</text>
<text font-family="Liberation Serif, Times New Roman, serif" font-size="9.4" fill="#333" x="452.80" y="175.9" text-anchor="middle">270</text>
<text font-family="Liberation Serif, Times New Roman, serif" font-size="9.4" fill="#333" x="479.80" y="175.9" text-anchor="middle">280</text>
<text font-family="Liberation Serif, Times New Roman, serif" font-size="9.4" fill="#333" x="506.80" y="175.9" text-anchor="middle">290</text>
<text font-family="Liberation Serif, Times New Roman, serif" font-size="9.4" fill="#333" x="533.80" y="175.9" text-anchor="middle">300</text>
<path d="M452.80,165.20 v1.4" stroke="#8a8a9a" stroke-width="0.6"/>
<path d="M466.30,165.20 v0.9" stroke="#8a8a9a" stroke-width="0.6"/>
<path d="M479.80,165.20 v1.4" stroke="#8a8a9a" stroke-width="0.6"/>
<path d="M493.30,165.20 v0.9" stroke="#8a8a9a" stroke-width="0.6"/>
<path d="M506.80,165.20 v1.4" stroke="#8a8a9a" stroke-width="0.6"/>
<path d="M520.30,165.20 v0.9" stroke="#8a8a9a" stroke-width="0.6"/>
<path d="M533.80,165.20 v1.4" stroke="#8a8a9a" stroke-width="0.6"/>
<clipPath id="clipd"><rect x="449.50" y="80.30" width="88.00" height="84.90"/></clipPath>
<g clip-path="url(#clipd)" fill="none" stroke-linejoin="round" stroke-width="1.3">
<path d="M447.40,100.34 L450.10,121.51 L452.80,107.82 L455.50,107.31 L458.20,109.13 L460.90,129.73 L463.60,132.06 L466.30,127.33 L469.00,138.62 L471.70,142.98 L474.40,145.46 L477.10,146.62 L479.80,141.16 L482.50,142.33 L485.20,135.92 L487.90,141.53 L490.60,144.08 L493.30,144.44 L496.00,140.00 L498.70,138.25 L501.40,137.09 L504.10,135.92 L506.80,134.98 L509.50,140.65 L512.20,142.84 L514.90,135.92 L517.60,134.61 L520.30,127.70 L523.00,130.24 L525.70,142.62 L528.40,132.72 L531.10,161.98" stroke="#000"/>
<path d="M447.40,85.56 L450.10,85.11 L452.80,81.76 L455.50,108.99 L458.20,93.99 L460.90,90.64 L463.60,98.94 L466.30,106.51 L469.00,108.19 L471.70,120.71 L474.40,115.68 L477.10,113.14 L479.80,109.86 L482.50,115.17 L485.20,108.19 L487.90,99.81 L490.60,98.94 L493.30,93.99 L496.00,110.59 L498.70,93.99 L501.40,104.04 L504.10,97.48 L506.80,93.48 L509.50,104.76 L512.20,129.08 L514.90,117.50 L517.60,103.31 L520.30,89.77 L523.00,97.48 L525.70,112.34 L528.40,114.37 L531.10,105.13" stroke="#ff2a00"/>
</g>
<rect x="509.80" y="56.70" width="17.70" height="17.50" fill="#ffe800" fill-opacity="0.5" stroke="#8c8c70" stroke-width="0.8"/>
<path d="M517.30,74.60 L515.00,80.50" stroke="#222" stroke-width="0.9"/>
</svg>
</body></html>
